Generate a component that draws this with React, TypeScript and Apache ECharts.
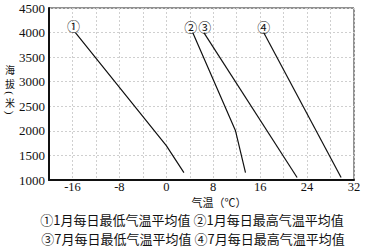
import React, { useEffect, useRef } from "react";
import * as echarts from "echarts";

const seriesMarks = ["①", "②", "③", "④"];
const seriesNames = [
  "1月每日最低气温平均值",
  "1月每日最高气温平均值",
  "7月每日最低气温平均值",
  "7月每日最高气温平均值",
];
const series1: [number, number][] = [[-15.5, 4000], [0, 1700], [3, 1150]];
const series2: [number, number][] = [[4.5, 4000], [11.8, 2000], [13.5, 1150]];
const series3: [number, number][] = [[6.4, 4000], [22.3, 1050]];
const series4: [number, number][] = [[16.6, 4000], [29.8, 1050]];
const seriesData = [series1, series2, series3, series4];
const labelOffsets: [number, number][] = [[-2, 1], [-2, 2], [1, 2], [0, 2]];

const xName = "气温（℃）";
// vertical axis title: characters, with the parentheses drawn as rotated glyphs
const yNameChars = ["海", "拔", "(", "米", ")"];
const yNameY = [69, 83.5, 93, 102.5, 112.5];

const SERIF = "'Liberation Serif', 'DejaVu Serif', serif";
const CJK = "'Noto Sans CJK SC', sans-serif";

export default function App() {
  const ref = useRef<HTMLDivElement>(null);
  useEffect(() => {
    if (!ref.current) return;
    const chart = echarts.init(ref.current, null, { renderer: "svg" });
    chart.setOption({
      animation: false,
      backgroundColor: "#fff",
      grid: {
        left: 49,
        right: 16,
        top: 8,
        bottom: 68,
        show: true,
        borderColor: "#222",
        borderWidth: 1,
      },
      xAxis: {
        type: "value",
        min: -20,
        max: 32,
        interval: 4,
        axisLine: { show: true, onZero: false, lineStyle: { color: "#111", width: 2 } },
        axisTick: { show: false },
        axisLabel: {
          color: "#111",
          fontFamily: SERIF,
          fontSize: 12.5,
          margin: 0,
          formatter: (v: number) => (v % 8 === 0 ? String(v) : ""),
        },
        splitLine: { show: true, lineStyle: { color: "#cfcfcf", type: [2, 2], width: 1 } },
      },
      yAxis: {
        type: "value",
        min: 1000,
        max: 4500,
        interval: 500,
        axisLine: { show: true, onZero: false, lineStyle: { color: "#111", width: 2 } },
        axisTick: { show: false },
        axisLabel: {
          color: "#111",
          fontFamily: SERIF,
          fontSize: 13,
          margin: 4,
          formatter: (v: number) => String(v),
        },
        splitLine: { show: true, lineStyle: { color: "#cfcfcf", type: [2, 2], width: 1 } },
      },
      series: seriesData.map((d, i) => ({
        type: "line",
        name: seriesNames[i],
        data: d,
        showSymbol: false,
        symbol: "none",
        lineStyle: { color: "#111", width: 1.2 },
        silent: true,
        markPoint: {
          silent: true,
          symbol: "circle",
          symbolSize: 1,
          itemStyle: { color: "transparent" },
          data: [
            {
              coord: d[0],
              label: {
                show: true,
                formatter: seriesMarks[i],
                position: "top",
                distance: 1,
                offset: labelOffsets[i],
                fontFamily: CJK,
                fontSize: 13,
                color: "#111",
              },
            },
          ],
        },
      })),
      graphic: [
        ...yNameChars.map((c, i) => {
          const paren = c === "(" || c === ")";
          return {
            type: "text",
            x: 10,
            y: yNameY[i],
            rotation: paren ? -Math.PI / 2 : 0,
            style: {
              text: c,
              fontFamily: paren ? SERIF : CJK,
              fontSize: paren ? 11 : 10,
              fill: "#111",
              align: "center",
              verticalAlign: "middle",
            },
          };
        }),
        {
          type: "text",
          x: 219,
          y: 202,
          style: {
            text: xName,
            fontFamily: CJK,
            fontSize: 11,
            fill: "#111",
            align: "center",
            verticalAlign: "middle",
          },
        },
        {
          type: "text",
          x: 192,
          y: 219.6,
          style: {
            text: `${seriesMarks[0]}${seriesNames[0]} ${seriesMarks[1]}${seriesNames[1]}`,
            fontFamily: CJK,
            fontSize: 13,
            fill: "#111",
            align: "center",
            verticalAlign: "middle",
          },
        },
        {
          type: "text",
          x: 193,
          y: 238.4,
          style: {
            text: `${seriesMarks[2]}${seriesNames[2]} ${seriesMarks[3]}${seriesNames[3]}`,
            fontFamily: CJK,
            fontSize: 13,
            fill: "#111",
            align: "center",
            verticalAlign: "middle",
          },
        },
      ],
    });
    return () => chart.dispose();
  }, []);
  return (
    <div
      ref={ref}
      style={{ position: "fixed", left: 0, top: 0, width: 370, height: 248 }}
    />
  );
}
